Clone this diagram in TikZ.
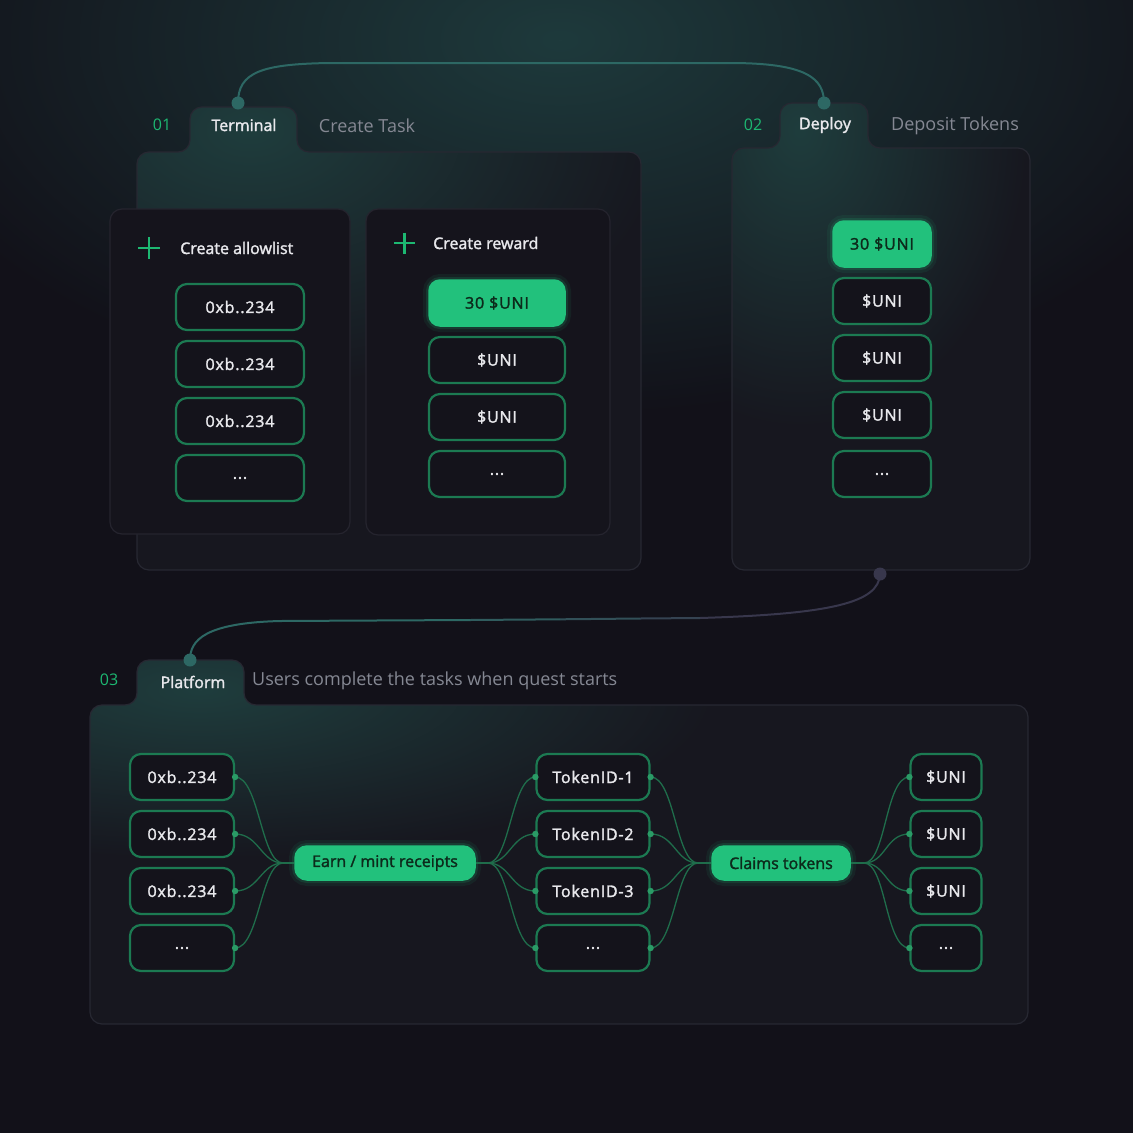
\documentclass[tikz,border=0pt]{standalone}
\usepackage{fontspec}
\setmainfont{Open Sans}
\newfontfamily\itemfont[LetterSpace=5, FakeBold=1.8]{Open Sans}
\newfontfamily\medfont[FakeBold=1.8]{Open Sans}
\usetikzlibrary{fadings}
\tikzfading[name=glowfade, inner color=transparent!0, outer color=transparent!100]
\definecolor{bg}{HTML}{121119}
\definecolor{topglow}{HTML}{1e3a3c}
\definecolor{panelbase}{HTML}{17171f}
\definecolor{panelteal}{HTML}{1f3d3d}
\definecolor{pborder}{HTML}{272832}
\definecolor{card}{HTML}{15141c}
\definecolor{cardborder}{HTML}{25242e}
\definecolor{itemfill}{HTML}{14131b}
\definecolor{itemborder}{HTML}{1c7a52}
\definecolor{accent}{HTML}{22c17c}
\definecolor{greentext}{HTML}{0c2a1b}
\definecolor{wtext}{HTML}{e8e8ec}
\definecolor{gtext}{HTML}{858893}
\definecolor{numgreen}{HTML}{1db872}
\definecolor{link}{HTML}{1f6d4b}
\definecolor{linkdot}{HTML}{2a9b66}
\definecolor{tealconn}{HTML}{2d6864}
\definecolor{grayconn}{HTML}{38374c}
\tikzset{
  panelline/.style={draw=pborder, line width=1.2, rounded corners=12},
  cardbox/.style={fill=card, draw=cardborder, line width=1.2, rounded corners=12},
  itembox/.style={draw=itemborder, fill=itemfill, line width=2.2, rounded corners=11,
     minimum height=46, inner sep=0, text=wtext, font=\itemfont\fontsize{16}{19}\selectfont},
  greenbox/.style={fill=accent, draw=accent, line width=1.5, rounded corners=11,
     minimum height=46, inner sep=0, text=greentext, font=\itemfont\fontsize{16}{19}\selectfont,
     preaction={draw=accent, line width=12, opacity=0.08},
     preaction={draw=accent, line width=6, opacity=0.15}},
  pill/.style={fill=accent, draw=accent, line width=1.5, rounded corners=12,
     minimum height=34, inner sep=0, text=greentext, font=\medfont\fontsize{16}{19}\selectfont,
     preaction={draw=accent, line width=12, opacity=0.08},
     preaction={draw=accent, line width=6, opacity=0.15}},
  tabtext/.style={text=wtext, font=\medfont\fontsize{16}{19}\selectfont, inner sep=0},
  numtext/.style={text=numgreen, font=\fontsize{16}{19}\selectfont, inner sep=0},
  desctext/.style={text=gtext, font=\fontsize{18}{21}\selectfont, inner sep=0},
  headtext/.style={text=wtext, font=\medfont\fontsize{16}{19}\selectfont, inner sep=0, anchor=west},
  lk/.style={draw=link, line width=1.3},
  plusmark/.style={draw=numgreen, line width=2.8},
  conn/.style={line width=2},
}
\begin{document}
\begin{tikzpicture}[x=1pt,y=-1pt]
\useasboundingbox (0,0) rectangle (1133,1133);
% background
\fill[bg] (0,0) rectangle (1133,1133);
\fill[topglow, path fading=glowfade] (560,40) ellipse (700 and 380);

% ---------- Panel 1 ----------
\fill[panelbase, rounded corners=12] (137,570) -- (137,152) -- (190,152) -- (190,107) -- (297,107) -- (297,152) -- (641,152) -- (641,570) -- cycle;
\begin{scope}
\clip[rounded corners=12] (137,570) -- (137,152) -- (190,152) -- (190,107) -- (297,107) -- (297,152) -- (641,152) -- (641,570) -- cycle;
\fill[panelteal, path fading=glowfade] (250,130) ellipse (420 and 260);
\end{scope}
\draw[panelline] (137,570) -- (137,152) -- (190,152) -- (190,107) -- (297,107) -- (297,152) -- (641,152) -- (641,570) -- cycle;

% ---------- Panel 2 ----------
\fill[panelbase, rounded corners=12] (732,570) -- (732,148) -- (780,148) -- (780,103) -- (868,103) -- (868,148) -- (1030,148) -- (1030,570) -- cycle;
\begin{scope}
\clip[rounded corners=12] (732,570) -- (732,148) -- (780,148) -- (780,103) -- (868,103) -- (868,148) -- (1030,148) -- (1030,570) -- cycle;
\fill[panelteal, path fading=glowfade] (800,130) ellipse (230 and 300);
\end{scope}
\draw[panelline] (732,570) -- (732,148) -- (780,148) -- (780,103) -- (868,103) -- (868,148) -- (1030,148) -- (1030,570) -- cycle;

% ---------- Panel 3 ----------
\fill[panelbase, rounded corners=12] (90,1024) -- (90,705) -- (137,705) -- (137,660) -- (244,660) -- (244,705) -- (1028,705) -- (1028,1024) -- cycle;
\begin{scope}
\clip[rounded corners=12] (90,1024) -- (90,705) -- (137,705) -- (137,660) -- (244,660) -- (244,705) -- (1028,705) -- (1028,1024) -- cycle;
\fill[panelteal, path fading=glowfade] (200,690) ellipse (520 and 170);
\end{scope}
\draw[panelline] (90,1024) -- (90,705) -- (137,705) -- (137,660) -- (244,660) -- (244,705) -- (1028,705) -- (1028,1024) -- cycle;

% ---------- Tab labels ----------
\node[numtext] (n1) at (162,125) {01};
\node[tabtext] (tab1) at (244,125) {Terminal};
\node[desctext] (d1) at (367,126) {Create Task};
\node[numtext] (n2) at (753,125) {02};
\node[tabtext] (tab2) at (825,125) {Deploy};
\node[desctext] (d2) at (955,126) {Deposit Tokens};
\node[numtext] (n3) at (109,680) {03};
\node[tabtext] (tab3) at (193,682) {Platform};
\node[desctext, anchor=west] (d3) at (252,681) {Users complete the tasks when quest starts};

% ---------- Connectors between panels ----------
\coordinate (c1) at (238,103);
\coordinate (c2) at (824,103);
\coordinate (c3) at (880,574);
\coordinate (c4) at (190,660);
\coordinate (m1) at (280,621);
\coordinate (m2) at (470,620);
\coordinate (m3) at (560,619.3);
\coordinate (m4) at (640,618.5);
\coordinate (m5) at (700,618);
\draw[tealconn, conn] (c1) .. controls (238,72) and (262,64) .. (330,63) -- (730,63) .. controls (806,63) and (824,78) .. (c2);
\fill[tealconn] (c1) circle (6.5);
\fill[tealconn] (c2) circle (6.5);
\draw[grayconn, conn] (c3) .. controls (879,603) and (830,614) .. (m5);
\draw[grayconn!75!tealconn, conn] (m5) -- (m4);
\draw[grayconn!50!tealconn, conn] (m4) -- (m3);
\draw[grayconn!25!tealconn, conn] (m3) -- (m2);
\draw[tealconn, conn] (m2) -- (m1) .. controls (205,623) and (190,640) .. (c4);
\fill[grayconn] (c3) circle (6.5);
\fill[tealconn] (c4) circle (6.5);

% ---------- Panel 1 cards ----------
\draw[cardbox] (110,209) rectangle (350,534);
\draw[cardbox] (366,209) rectangle (610,535);
\draw[plusmark] (138,248) -- (160,248) (149,237) -- (149,259);
\node[headtext] (h1) at (180,248) {Create allowlist};
\draw[plusmark] (394,243) -- (415,243) (404.5,232.5) -- (404.5,253.5);
\node[headtext] (h2) at (433,243) {Create reward};

\node[itembox, minimum width=128] (a1) at (240,307) {0xb..234};
\node[itembox, minimum width=128] (a2) at (240,364) {0xb..234};
\node[itembox, minimum width=128] (a3) at (240,421) {0xb..234};
\node[itembox, minimum width=128] (a4) at (240,478) {...};

\node[greenbox, minimum width=136] (r1) at (497,303) {30 \$UNI};
\node[itembox, minimum width=136] (r2) at (497,360) {\$UNI};
\node[itembox, minimum width=136] (r3) at (497,417) {\$UNI};
\node[itembox, minimum width=136] (r4) at (497,474) {...};

% ---------- Panel 2 items ----------
\node[greenbox, minimum width=98] (p1) at (882,244) {30 \$UNI};
\node[itembox, minimum width=98] (p2) at (882,301) {\$UNI};
\node[itembox, minimum width=98] (p3) at (882,358) {\$UNI};
\node[itembox, minimum width=98] (p4) at (882,415) {\$UNI};
\node[itembox, minimum width=98] (p5) at (882,474) {...};

% ---------- Panel 3 flow ----------
\node[itembox, minimum width=104] (L1) at (182,777) {0xb..234};
\node[itembox, minimum width=104] (L2) at (182,834) {0xb..234};
\node[itembox, minimum width=104] (L3) at (182,891) {0xb..234};
\node[itembox, minimum width=104] (L4) at (182,948) {...};

\node[pill, minimum width=180] (earn) at (385,863) {Earn / mint receipts};

\node[itembox, minimum width=113] (T1) at (593,777) {TokenID-1};
\node[itembox, minimum width=113] (T2) at (593,834) {TokenID-2};
\node[itembox, minimum width=113] (T3) at (593,891) {TokenID-3};
\node[itembox, minimum width=113] (T4) at (593,948) {...};

\node[pill, minimum width=138] (claim) at (781,863) {Claims tokens};

\node[itembox, minimum width=71] (R1) at (946,777) {\$UNI};
\node[itembox, minimum width=71] (R2) at (946,834) {\$UNI};
\node[itembox, minimum width=71] (R3) at (946,891) {\$UNI};
\node[itembox, minimum width=71] (R4) at (946,948) {...};

\coordinate (J1) at (283,863);
\coordinate (J2) at (488,863);
\coordinate (J3) at (698,863);
\coordinate (J4) at (864,863);

\foreach \n in {L1,L2,L3,L4}{
  \draw[lk] (\n.east) .. controls +(24,0) and +(-22,0) .. (J1);
}
\draw[lk] (J1) -- (earn.west);
\draw[lk] (earn.east) -- (J2);
\foreach \n in {T1,T2,T3,T4}{
  \draw[lk] (J2) .. controls +(22,0) and +(-24,0) .. (\n.west);
  \draw[lk] (\n.east) .. controls +(24,0) and +(-22,0) .. (J3);
}
\draw[lk] (J3) -- (claim.west);
\draw[lk] (claim.east) -- (J4);
\foreach \n in {R1,R2,R3,R4}{
  \draw[lk] (J4) .. controls +(22,0) and +(-24,0) .. (\n.west);
}
\foreach \n in {L1,L2,L3,L4,T1,T2,T3,T4}{
  \fill[linkdot] (\n.east) circle (3.2);
}
\foreach \n in {T1,T2,T3,T4,R1,R2,R3,R4}{
  \fill[linkdot] (\n.west) circle (3.2);
}
\end{tikzpicture}
\end{document}
